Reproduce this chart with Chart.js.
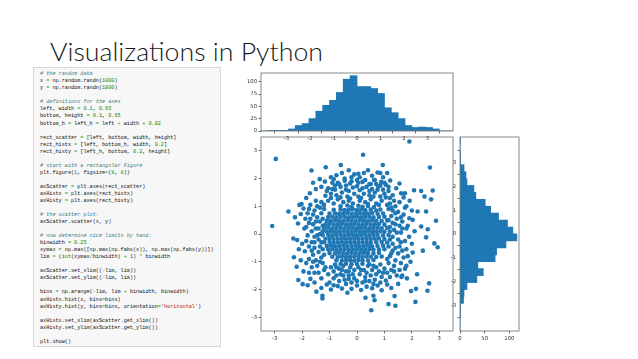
<!DOCTYPE html>
<html><head><meta charset="utf-8">
<script src="https://cdn.jsdelivr.net/npm/chart.js@4.4.0/dist/chart.umd.min.js"></script>
<style>
html,body{margin:0;padding:0;background:#fff;}
body{width:638px;height:359px;position:relative;overflow:hidden;}
#title{position:absolute;left:50px;top:39px;font-family:Lato,"Open Sans",sans-serif;font-weight:300;font-size:25.5px;line-height:1;color:#1a1a1a;white-space:nowrap;transform-origin:0 0;}
#codebox{position:absolute;left:33px;top:67px;width:188px;height:280px;background:#f7f7f7;border:1px solid #d6d6d6;box-sizing:border-box;}
#code{position:absolute;left:40px;top:70px;margin:0;font-family:"Liberation Mono","DejaVu Sans Mono",monospace;font-size:10.34px;line-height:14.08px;transform:scale(0.5);transform-origin:0 0;color:#111;white-space:pre;}
canvas{position:absolute;}
</style></head>
<body>
<div id="title">Visualizations in Python</div>
<div id="codebox"></div>
<pre id="code"></pre>
<canvas id="scatter" width="226" height="215" style="left:231px;top:131px"></canvas>
<canvas id="histx" width="226" height="78" style="left:231px;top:67px"></canvas>
<canvas id="histy" width="83" height="215" style="left:440px;top:131px"></canvas>
<script>
// ---------- data ----------
const codeLines = [
"# the random data",
"x = np.random.randn(1000)",
"y = np.random.randn(1000)",
"",
"# definitions for the axes",
"left, width = 0.1, 0.65",
"bottom, height = 0.1, 0.65",
"bottom_h = left_h = left + width + 0.02",
"",
"rect_scatter = [left, bottom, width, height]",
"rect_histx = [left, bottom_h, width, 0.2]",
"rect_histy = [left_h, bottom, 0.2, height]",
"",
"# start with a rectangular Figure",
"plt.figure(1, figsize=(8, 8))",
"",
"axScatter = plt.axes(rect_scatter)",
"axHistx = plt.axes(rect_histx)",
"axHisty = plt.axes(rect_histy)",
"",
"# the scatter plot:",
"axScatter.scatter(x, y)",
"",
"# now determine nice limits by hand:",
"binwidth = 0.25",
"xymax = np.max([np.max(np.fabs(x)), np.max(np.fabs(y))])",
"lim = (int(xymax/binwidth) + 1) * binwidth",
"",
"axScatter.set_xlim((-lim, lim))",
"axScatter.set_ylim((-lim, lim))",
"",
"bins = np.arange(-lim, lim + binwidth, binwidth)",
"axHistx.hist(x, bins=bins)",
"axHisty.hist(y, bins=bins, orientation='horizontal')",
"",
"axHistx.set_xlim(axScatter.get_xlim())",
"axHisty.set_ylim(axScatter.get_ylim())",
"",
"plt.show()"
];

const binLabels = ["-3.5","-3.25","-3","-2.75","-2.5","-2.25","-2","-1.75","-1.5","-1.25","-1","-0.75","-0.5","-0.25","0","0.25","0.5","0.75","1","1.25","1.5","1.75","2","2.25","2.5","2.75","3","3.25"];
const histXCounts = [0,1,1,1,4,11,15,25,40,52,62,78,105,112,90,90,86,76,47,37,25,11,7,8,7,4,0,0];
const histYCounts = [0,0,1,1,7,8,14,34,47,36,71,74,93,115,107,96,78,62,51,32,28,14,12,8,1,1,0,1];
const axisLim = [-3.5, 3.5];
const posTicks = [-3,-2,-1,0,1,2,3];
const histXCountMax = 117.6;
const histXCountTicks = [0,25,50,75,100];
const histYCountMax = 119.5;
const histYCountTicks = [0,50,100];

const scatterPoints = [
[1.91,3.34],[0.22,2.86],[-2.96,2.71],[-3.09,0.29],[2.66,2.40],[-1.66,2.29],[-1.14,2.41],[-0.59,2.49],[0.94,2.49],[2.34,1.55],
[2.76,1.57],[2.46,1.35],[2.70,1.25],[2.88,0.48],[2.94,-0.48],[2.82,-0.34],[-2.50,0.81],[-2.26,0.60],[-2.02,1.08],[-2.32,-0.16],
[-2.30,-0.84],[-2.20,-1.18],[-2.14,-1.66],[-1.98,-1.81],[-1.48,-2.08],[-1.26,-2.23],[-1.26,-2.33],[-0.35,-2.12],[0.31,-2.30],[0.52,-2.75],
[0.60,-2.23],[0.64,-2.39],[1.15,-2.53],[1.40,-2.59],[1.37,-2.24],[2.13,-2.45],[1.97,-2.06],[2.15,-1.98],[2.57,-2.05],[2.63,-1.78],
[2.19,-1.45],[2.03,-0.67],[2.40,-0.60],[2.52,-0.12],[2.58,0.17],[2.34,0.27],[2.03,0.51],[1.91,0.57],[2.21,0.81],[2.52,0.81],
[1.61,1.47],[1.75,1.47],[1.21,1.93],[1.43,1.65],[-1.72,1.47],[-1.36,1.98],[-1.17,1.89],
[-2.1,1.05],[-1.95,0.92],[-2.05,0.72],[-1.88,0.55],[-2.15,0.38],[-1.92,0.2],[-2.18,-0.22],[-2.0,-0.35],[-2.12,-0.55],[-1.9,-0.62],
[-2.05,-0.95],[-1.85,-1.05],[-1.95,-1.35],[-1.75,-1.4],[-1.7,-1.62],[-1.55,-1.75],[-1.8,-1.85],
[-1.3,-1.95],[-1.1,-1.82],[-0.95,-2.0],[-0.7,-1.88],[-0.55,-1.97],[-0.4,-1.8],[-0.2,-1.98],[0.0,-1.86],[0.15,-2.02],[0.35,-1.9],
[0.55,-1.96],[0.75,-1.86],[0.9,-2.03],[1.1,-1.82],[1.25,-1.95],[1.5,-1.8],[1.62,-1.55],[1.82,-1.6],[1.75,-1.25],
[1.95,-1.0],[1.85,-0.8],[2.0,-0.35],[1.9,-0.1],[2.1,0.1],[1.85,0.3],[2.0,0.85],[1.8,1.0],[1.92,1.2],[1.7,1.32],[2.08,1.58],
[1.55,1.82],[-1.5,1.62],[-1.85,1.3],[-1.6,1.85],[-0.95,2.05],[1.1,2.2],
[-0.3,2.3],[-0.1,2.15],[0.05,2.17],[0.4,2.3],[0.55,2.1],[0.75,2.22],[0.85,2.2],[0.1,2.05],[-0.45,2.0],[-0.75,2.12],[-0.85,1.98],
[-0.9,1.85],[-0.65,1.8],[-0.4,1.75],[-0.2,1.9],[0.05,1.85],[0.3,1.95],[0.5,1.8],[0.65,1.95],[0.85,1.75],[1.0,1.85],[-1.3,1.7],
[-1.05,1.65],[-0.8,1.6],[0.2,1.65],[0.75,1.6],[1.15,1.55],[1.3,1.4],
[-1.3,1.15],[-1.05,1.2],[-0.85,1.1],[-0.7,1.25],[-0.5,1.15],[-0.3,1.2],[-0.15,1.1],[0.1,1.2],[0.3,1.15],[0.5,1.25],[0.7,1.1],[0.9,1.2],[1.1,1.05],
[-1.15,1.38],[-0.95,1.45],[-0.75,1.4],[-0.55,1.5],[-0.35,1.35],[-0.1,1.45],[0.05,1.35],[0.25,1.45],[0.45,1.4],[0.65,1.5],[0.85,1.35],[1.0,1.45],[1.2,1.3],
[-0.9,1.62],[-0.6,1.7],[-0.4,1.6],[-0.15,1.68],[0.1,1.58],[0.35,1.7],[0.55,1.62],[0.78,1.72],[0.95,1.6],
[-0.7,1.85],[-0.45,1.92],[-0.25,1.82],[0.0,1.95],[0.2,1.88],[0.45,1.8],[0.62,1.95],[0.88,1.88],[1.05,1.78],
[-1.5,1.2],[-1.7,1.05],[-1.35,0.95],[-1.55,0.85],[-1.8,0.75],[-1.3,0.75],[-1.45,0.6],[-1.7,0.55],[-1.35,0.45],[-1.6,0.35],
[-1.85,0.25],[-1.4,0.2],[-1.65,0.1],[-1.35,0.0],[-1.55,-0.1],[-1.8,-0.05],[-1.4,-0.2],[-1.65,-0.3],[-1.35,-0.45],[-1.55,-0.5],
[-1.75,-0.45],[-1.4,-0.65],[-1.6,-0.75],[-1.3,-0.85],[-1.5,-0.95],[-1.75,-0.9],[-1.25,-1.05],[-1.45,-1.15],[-1.65,-1.2],[-1.2,-1.3],
[-1.4,-1.4],[-1.05,-1.45],
[-0.95,-1.2],[-0.8,-1.1],[-0.85,-1.35],[-0.65,-1.25],[-0.5,-1.15],[-0.6,-1.45],[-0.4,-1.35],[-0.25,-1.2],[-0.1,-1.3],[0.05,-1.2],
[0.25,-1.3],[0.4,-1.15],[0.55,-1.3],[0.7,-1.2],[0.85,-1.1],[1.0,-1.25],[-0.3,-1.5],[-0.1,-1.6],[0.1,-1.45],[0.3,-1.55],
[0.5,-1.5],[0.7,-1.45],[0.9,-1.55],[1.1,-1.4],[1.25,-1.3],[-0.85,-1.6],[-0.65,-1.7],[-0.45,-1.65],[0.2,-1.75],[0.45,-1.7],
[0.65,-1.65],[0.85,-1.75],[1.05,-1.68],[-1.0,-1.75],
[1.2,1.1],[1.4,1.0],[1.55,1.15],[1.3,0.85],[1.5,0.8],[1.7,0.7],[1.25,0.65],[1.45,0.55],[1.65,0.45],[1.3,0.4],
[1.55,0.3],[1.8,0.2],[1.35,0.15],[1.6,0.05],[1.3,-0.1],[1.5,-0.2],[1.75,-0.25],[1.3,-0.35],[1.55,-0.45],[1.8,-0.55],
[1.3,-0.6],[1.5,-0.7],[1.7,-0.85],[1.2,-0.8],[1.4,-0.95],[1.6,-1.05],[1.15,-1.05],[1.35,-1.15],[1.55,-1.3],[1.8,-1.15],[1.45,-1.5],
[-1.2,1.05],[-0.95,1.3],[-0.6,1.32],[-0.25,1.28],[0.15,1.3],[0.4,1.08],[0.6,1.35],[0.8,1.05],[1.05,1.32],[-0.8,1.75],
[-0.3,1.55],[0.0,1.72],[0.45,1.55],[0.7,1.8],[-1.1,1.55],[1.15,1.7],[-0.55,2.2],[0.25,2.2],[0.95,2.05],[-0.2,2.05],
[-1.2,0.9],[-1.25,0.55],[-1.5,0.45],[-1.25,0.3],[-1.5,0.2],[-1.75,0.4],[-1.25,0.1],[-1.45,-0.05],[-1.3,-0.3],[-1.55,-0.3],
[-1.25,-0.55],[-1.2,-0.75],[-1.35,-1.0],[-1.65,-0.6],[-1.6,-1.0],[-1.85,-0.25],[-1.55,-1.4],[-1.3,-1.6],[-1.15,-1.2],[-1.6,0.7],
[-1.45,1.0],[-1.75,0.9],
[-0.75,-1.2],[-0.55,-1.3],[-0.3,-1.35],[-0.15,-1.45],[0.15,-1.3],[0.35,-1.4],[0.6,-1.15],[0.8,-1.35],[0.95,-1.4],[-0.75,-1.5],
[-0.5,-1.5],[0.0,-1.7],[0.6,-1.8],[-0.2,-1.75],[1.2,-1.55],[0.3,-1.7],[-0.85,-1.85],[-0.3,-1.62],
[1.15,0.9],[1.25,0.95],[1.4,0.75],[1.15,0.5],[1.4,0.35],[1.2,0.25],[1.45,0.05],[1.2,-0.2],[1.4,-0.5],[1.15,-0.45],
[1.65,-0.6],[1.25,-0.7],[1.6,-0.3],[1.65,0.2],[1.6,0.6],[1.75,0.95],[1.35,1.2],[1.1,-0.9],[1.35,-1.35],[1.65,-1.5],
[-0.6,1.0],[-0.35,1.03],[-0.2,0.97],[0.05,1.02],[0.2,0.98],[0.4,1.01],[0.62,0.97],
[-0.85,0.87],[-0.6,0.88],[-0.45,0.86],[-0.3,0.87],[-0.15,0.89],[0.0,0.86],[0.15,0.88],[0.3,0.86],[0.5,0.88],[0.7,0.85],[0.85,0.88],
[-1.0,0.74],[-0.8,0.75],[-0.65,0.73],[-0.5,0.74],[-0.35,0.76],[-0.2,0.73],[-0.05,0.74],[0.1,0.75],[0.25,0.73],[0.4,0.74],[0.55,0.76],[0.75,0.73],[0.95,0.74],
[-1.05,0.61],[-0.9,0.62],[-0.75,0.6],[-0.6,0.61],[-0.45,0.62],[-0.3,0.6],[-0.15,0.61],[0.0,0.62],[0.15,0.6],[0.3,0.61],[0.45,0.62],[0.6,0.6],[0.8,0.61],[1.0,0.62],
[-1.1,0.48],[-0.95,0.47],[-0.8,0.49],[-0.65,0.48],[-0.5,0.47],[-0.35,0.49],[-0.2,0.48],[-0.05,0.47],[0.1,0.49],[0.25,0.48],[0.4,0.47],[0.55,0.49],[0.7,0.48],[0.9,0.47],[1.1,0.49],
[-1.15,0.35],[-1.0,0.36],[-0.85,0.34],[-0.7,0.35],[-0.55,0.36],[-0.4,0.34],[-0.25,0.35],[-0.1,0.36],[0.05,0.34],[0.2,0.35],[0.35,0.36],[0.5,0.34],[0.65,0.35],[0.8,0.36],[1.0,0.34],
[-1.2,0.22],[-1.05,0.23],[-0.9,0.21],[-0.75,0.22],[-0.6,0.23],[-0.45,0.21],[-0.3,0.22],[-0.15,0.23],[0.0,0.21],[0.15,0.22],[0.3,0.23],[0.45,0.21],[0.6,0.22],[0.75,0.23],[0.9,0.21],[1.1,0.22],
[-1.1,0.09],[-0.95,0.1],[-0.8,0.08],[-0.65,0.09],[-0.5,0.1],[-0.35,0.08],[-0.2,0.09],[-0.05,0.1],[0.1,0.08],[0.25,0.09],[0.4,0.1],[0.55,0.08],[0.7,0.09],[0.85,0.1],[1.0,0.08],[1.2,0.09],
[-1.25,-0.04],[-1.05,-0.03],[-0.9,-0.05],[-0.75,-0.04],[-0.6,-0.03],[-0.45,-0.05],[-0.3,-0.04],[-0.15,-0.03],[0.0,-0.05],[0.15,-0.04],[0.3,-0.03],[0.45,-0.05],[0.6,-0.04],[0.75,-0.03],[0.95,-0.05],[1.15,-0.04],
[-1.15,-0.17],[-1.0,-0.16],[-0.85,-0.18],[-0.7,-0.17],[-0.55,-0.16],[-0.4,-0.18],[-0.25,-0.17],[-0.1,-0.16],[0.05,-0.18],[0.2,-0.17],[0.35,-0.16],[0.5,-0.18],[0.65,-0.17],[0.8,-0.16],[1.0,-0.18],
[-1.2,-0.3],[-1.0,-0.29],[-0.85,-0.31],[-0.7,-0.3],[-0.55,-0.29],[-0.4,-0.31],[-0.25,-0.3],[-0.1,-0.29],[0.05,-0.31],[0.2,-0.3],[0.35,-0.29],[0.5,-0.31],[0.7,-0.3],[0.9,-0.29],[1.1,-0.31],
[-1.1,-0.43],[-0.95,-0.42],[-0.8,-0.44],[-0.65,-0.43],[-0.5,-0.42],[-0.35,-0.44],[-0.2,-0.43],[-0.05,-0.42],[0.1,-0.44],[0.25,-0.43],[0.4,-0.42],[0.55,-0.44],[0.75,-0.43],[0.95,-0.42],
[-1.05,-0.56],[-0.9,-0.55],[-0.75,-0.57],[-0.6,-0.56],[-0.45,-0.55],[-0.3,-0.57],[-0.15,-0.56],[0.0,-0.55],[0.15,-0.57],[0.3,-0.56],[0.45,-0.55],[0.6,-0.57],[0.8,-0.56],[1.0,-0.55],
[-1.0,-0.69],[-0.8,-0.7],[-0.65,-0.68],[-0.5,-0.69],[-0.35,-0.7],[-0.2,-0.68],[-0.05,-0.69],[0.1,-0.7],[0.25,-0.68],[0.4,-0.69],[0.6,-0.7],[0.8,-0.68],
[-0.9,-0.82],[-0.7,-0.83],[-0.55,-0.81],[-0.4,-0.82],[-0.25,-0.83],[-0.1,-0.81],[0.05,-0.82],[0.2,-0.83],[0.35,-0.81],[0.5,-0.82],[0.7,-0.83],[0.9,-0.81],
[-0.75,-0.95],[-0.55,-0.96],[-0.4,-0.94],[-0.25,-0.95],[-0.1,-0.96],[0.05,-0.94],[0.2,-0.95],[0.4,-0.96],[0.6,-0.94],
[-0.6,-1.08],[-0.4,-1.07],[-0.2,-1.09],[0.0,-1.08],[0.2,-1.07],[0.45,-1.09]
];

// ---------- code listing ----------
(function(){
  const colors = {comment:'#408080', string:'#BA2121', number:'#008800', builtin:'#008000', op:'#22a022'};
  const re = /(#.*$)|('[^']*')|(\b\d+(?:\.\d+)?\b)|(\bint\b)|([=+*\/\-])|([^#'=+*\/\-]+?)/g;
  const out = codeLines.map(line => {
    let html = '', m; re.lastIndex = 0;
    while ((m = re.exec(line)) !== null) {
      if (m[0] === '') { re.lastIndex++; continue; }
      if (m[1]) html += '<span style="color:'+colors.comment+';font-style:italic">'+m[1]+'</span>';
      else if (m[2]) html += '<span style="color:'+colors.string+'">'+m[2]+'</span>';
      else if (m[3]) html += '<span style="color:'+colors.number+'">'+m[3]+'</span>';
      else if (m[4]) html += '<span style="color:'+colors.builtin+'">'+m[4]+'</span>';
      else if (m[5]) html += '<span style="color:'+colors.op+'">'+m[5]+'</span>';
      else html += m[0];
    }
    return html;
  });
  document.getElementById('code').innerHTML = out.join('\n');
})();

// ---------- title fit ----------
function fitTitle(){
  const t = document.getElementById('title');
  t.style.transform = 'none';
  const w = t.getBoundingClientRect().width;
  t.style.transform = 'scaleX(' + (273 / w) + ')';
}
fitTitle();
if (document.fonts && document.fonts.ready) document.fonts.ready.then(fitTitle);

// ---------- charts ----------
const BLUE = '#1f77b4';
Chart.defaults.font.family = '"DejaVu Sans", sans-serif';
Chart.defaults.font.size = 5.3;
Chart.defaults.color = '#333';

const framePlugin = {
  id: 'frame',
  afterDatasetsDraw(chart) {
    const {ctx, chartArea: a} = chart;
    ctx.save();
    ctx.strokeStyle = '#6a6a6a';
    ctx.lineWidth = 0.8;
    ctx.strokeRect(a.left, a.top, a.right - a.left, a.bottom - a.top);
    ctx.restore();
  }
};

function tickAxis(extra) {
  return Object.assign({
    type: 'linear',
    grid: {display: true, drawOnChartArea: false, drawTicks: true, tickLength: 2.5, tickColor: '#444', tickWidth: 0.8},
    border: {display: false},
    ticks: {padding: 1.5, color: '#333', font: {size: 5.3}, maxRotation: 0, autoSkip: false}
  }, extra);
}
function setTicks(list) { return (scale) => { scale.ticks = list.map(v => ({value: v})); }; }

const baseOpts = {
  responsive: false, animation: false, events: [],
  plugins: {legend: {display: false}, tooltip: {enabled: false}},
};

// scatter
new Chart(document.getElementById('scatter'), {
  type: 'scatter',
  data: {datasets: [{
    data: scatterPoints.map(p => ({x: p[0], y: p[1]})),
    backgroundColor: BLUE, borderWidth: 0, pointRadius: 2.3, pointHoverRadius: 2.3
  }]},
  options: Object.assign({}, baseOpts, {
    layout: {padding: {top: 6, right: 4, left: 0, bottom: 0}},
    scales: {
      x: tickAxis({min: axisLim[0], max: axisLim[1], afterBuildTicks: setTicks(posTicks), afterFit: s => { s.height = 15; }}),
      y: tickAxis({min: axisLim[0], max: axisLim[1], afterBuildTicks: setTicks(posTicks), afterFit: s => { s.width = 30; }})
    }
  }),
  plugins: [framePlugin]
});

// top histogram
new Chart(document.getElementById('histx'), {
  type: 'bar',
  data: {labels: binLabels, datasets: [{
    data: histXCounts, xAxisID: 'xc', yAxisID: 'y',
    backgroundColor: BLUE, borderWidth: 0, barPercentage: 1, categoryPercentage: 1, inflateAmount: 0.4
  }]},
  options: Object.assign({}, baseOpts, {
    layout: {padding: {top: 6, right: 4, left: 0, bottom: 0}},
    scales: {
      xc: {type: 'category', display: false, offset: true, grid: {display: false}},
      x: tickAxis({position: 'bottom', min: axisLim[0], max: axisLim[1], afterBuildTicks: setTicks(posTicks), afterFit: s => { s.height = 14; }}),
      y: tickAxis({min: 0, max: histXCountMax, afterBuildTicks: setTicks(histXCountTicks), afterFit: s => { s.width = 30; }})
    }
  }),
  plugins: [framePlugin]
});

// right histogram
new Chart(document.getElementById('histy'), {
  type: 'bar',
  data: {labels: binLabels, datasets: [{
    data: histYCounts, xAxisID: 'x', yAxisID: 'yc',
    backgroundColor: BLUE, borderWidth: 0, barPercentage: 1, categoryPercentage: 1, inflateAmount: 0.4
  }]},
  options: Object.assign({}, baseOpts, {
    indexAxis: 'y',
    layout: {padding: {top: 6, right: 4, left: 0, bottom: 0}},
    scales: {
      yc: {type: 'category', display: false, offset: true, reverse: true, grid: {display: false}},
      y: tickAxis({position: 'left', min: axisLim[0], max: axisLim[1], afterBuildTicks: setTicks(posTicks), afterFit: s => { s.width = 20; }}),
      x: tickAxis({position: 'bottom', min: 0, max: histYCountMax, afterBuildTicks: setTicks(histYCountTicks), afterFit: s => { s.height = 15; }})
    }
  }),
  plugins: [framePlugin]
});
</script>
</body></html>
